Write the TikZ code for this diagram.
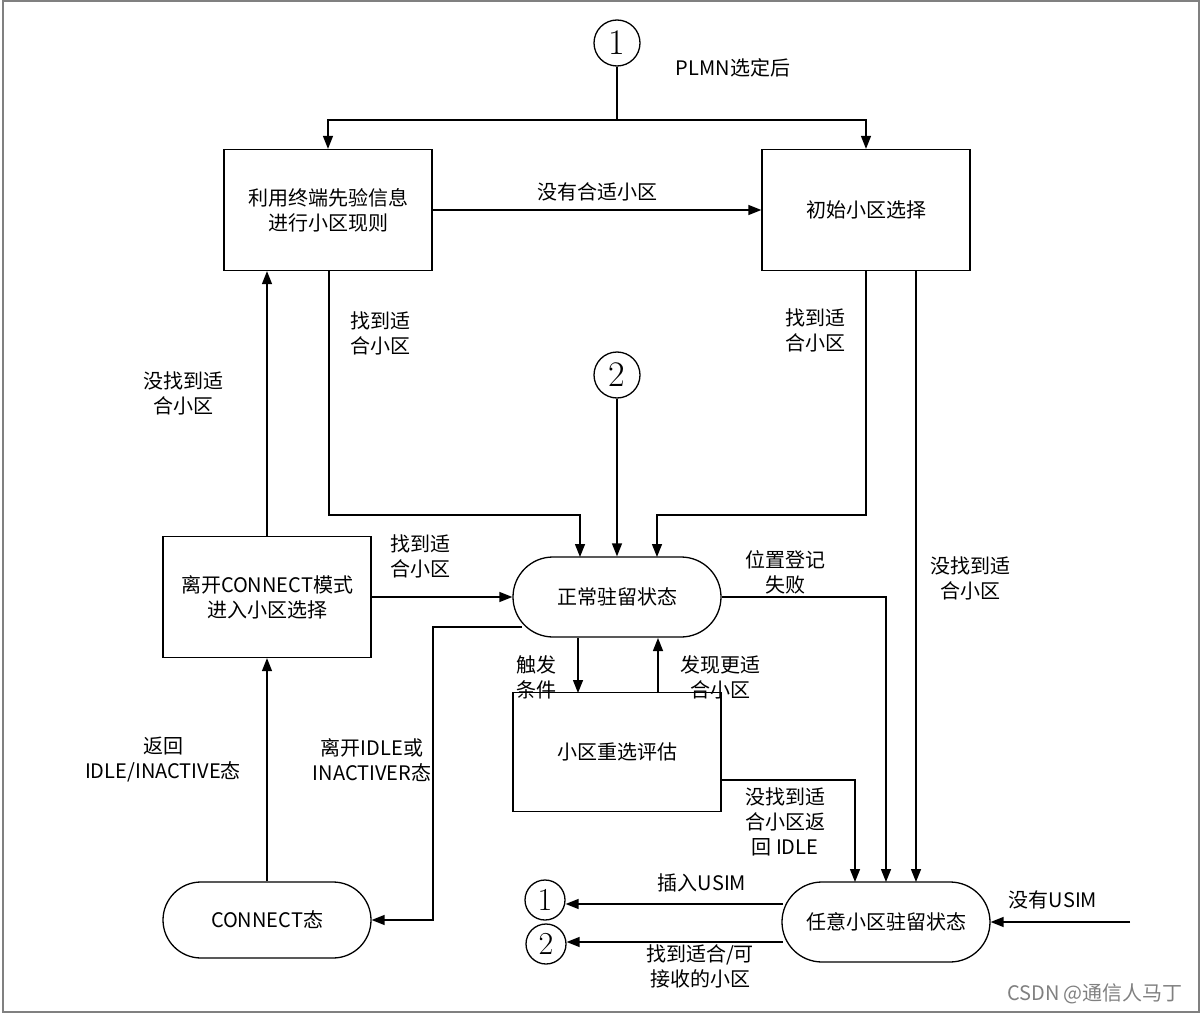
\documentclass[tikz,border=0pt]{standalone}
\usepackage{fontspec}
\newfontfamily\cjk{Noto Sans CJK SC}
\usetikzlibrary{arrows.meta,shapes.misc}
\begin{document}
\begin{tikzpicture}[x=1pt,y=-1pt,
  every node/.style={font=\cjk\fontsize{20}{25}\selectfont},
  box/.style={draw,line width=1.3pt,minimum width=208pt,minimum height=121pt,align=center,inner sep=0},
  st/.style={draw,line width=1.3pt,rounded rectangle,minimum width=208pt,minimum height=80pt,inner sep=0},
  lab/.style={align=center,inner sep=0},
  cir/.style={draw,circle,line width=1.3pt,minimum size=#1,inner sep=0,font=\rmfamily\fontsize{36}{36}\selectfont},
  a/.style={line width=1.4pt,-{Triangle[length=13pt,width=10pt]}},
  l/.style={line width=1.4pt}]
\useasboundingbox (0,0) rectangle (1202,1014);
\draw[gray,line width=2pt] (3,1) rectangle (1199,1012);
\node[cir=46pt] (c1) at (617,43) {1};
\node[lab] at (733,68) {PLMN选定后};
\node[box] (A) at (328,210) {利用终端先验信息\\进行小区现则};
\node[box] (B) at (866,210) {初始小区选择};
\coordinate (j) at (617,120);
\draw[l] (c1) -- (j);
\draw[a] (j) -| (A.north);
\draw[a] (j) -| (B.north);
\draw[a] (A.east |- 0,210) -- (B.west) node[midway,above=8pt,lab] {没有合适小区};
\node[cir=46pt] (c2) at (617,375) {2};
\node[st] (N) at (617,597) {正常驻留状态};
\node[box] (C) at (267,597) {离开CONNECT模式\\进入小区选择};
\node[box,minimum height=119pt] (D) at (617,752) {小区重选评估};
\node[st,minimum height=76pt] (K) at (267,920) {CONNECT态};
\node[st] (Y) at (886,922) {任意小区驻留状态};
\draw[a] (329,271) |- (580,515) -- (580,557);
\node[lab] at (380,333) {找到适\\合小区};
\draw[a] (866,271) |- (657,515) -- (657,557);
\node[lab] at (815,330) {找到适\\合小区};
\draw[a] (c2) -- (N.north);
\draw[a] (916,271) -- (916,882);
\node[lab] at (970,578) {没找到适\\合小区};
\draw[a] (C.east) -- (N.west);
\node[lab] at (420,556) {找到适\\合小区};
\draw[a] (C.north) -- (A.south -| C.north);
\node[lab] at (183,393) {没找到适\\合小区};
\draw[a] (K.north) -- (C.south);
\node[lab] at (163,760) {返回\\IDLE/INACTIVE态};
\draw[a] (522,627) -- (433,627) |- (K.east);
\node[lab] at (372,760) {离开IDLE或\\INACTIVER态};
\draw[a] (578,638) -- (578,693);
\node[lab] at (536,677) {触发\\条件};
\draw[a] (658,693) -- (658,638);
\node[lab] at (720,677) {发现更适\\合小区};
\draw[a] (N.east) -| (886,882);
\node[lab] at (785,572) {位置登记\\失败};
\draw[a] (722,780) -| (855,882);
\node[lab] at (785,822) {没找到适\\合小区返\\回\ IDLE};
\coordinate (r) at (1130,922);
\draw[a] (r) -- (Y.east);
\node[lab] at (1053,900) {没有USIM};
\node[cir=40pt,font=\rmfamily\fontsize{32}{32}\selectfont] (d1) at (545,900) {1};
\node[cir=40pt,font=\rmfamily\fontsize{32}{32}\selectfont] (d2) at (546,944) {2};
\draw[a] (783,904) -- (d1.east |- 0,904);
\node[lab] at (702,883) {插入USIM};
\draw[a] (783,942) -- (d2.east |- 0,942);
\node[lab] at (700,966) {找到适合/可\\接收的小区};
\node[lab,text=gray] at (1095,994) {CSDN @通信人马丁};
\end{tikzpicture}
\end{document}
